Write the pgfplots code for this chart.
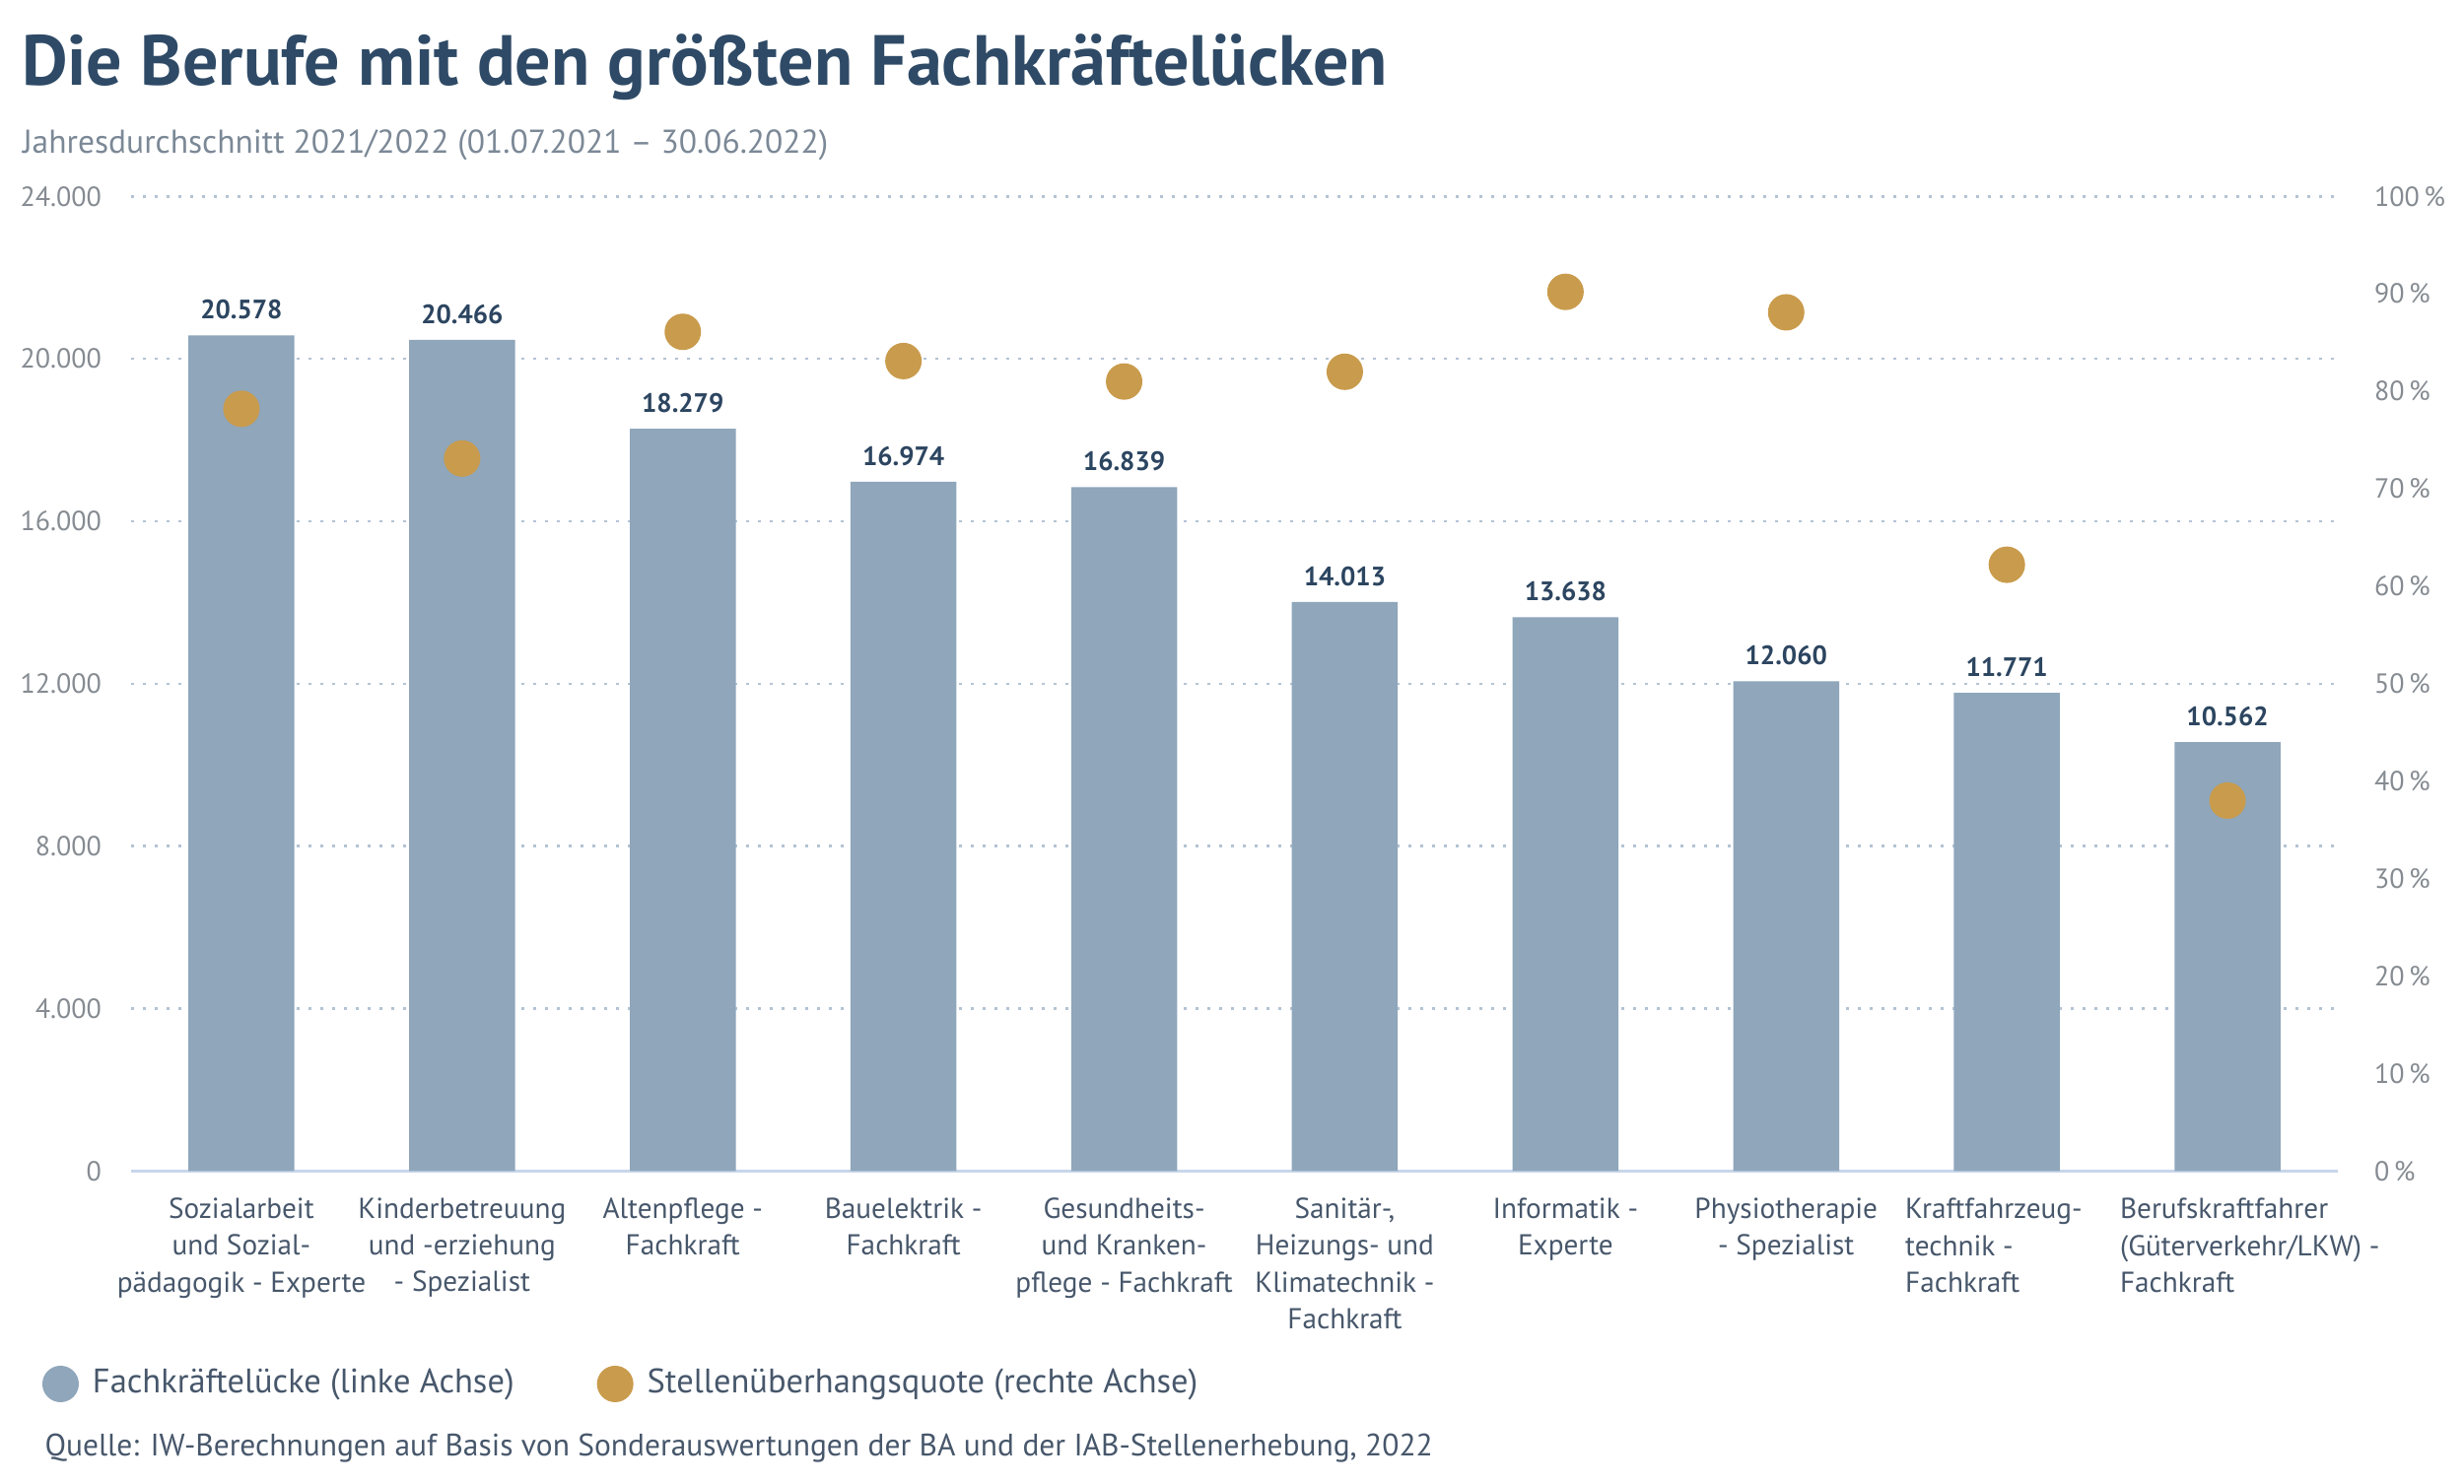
\documentclass[border=0pt]{standalone}
\usepackage{fontspec}
\setmainfont{PT Sans}
\usepackage{pgfplots}
\pgfplotsset{compat=1.18}
\definecolor{barc}{HTML}{8FA6BB}
\definecolor{dotc}{HTML}{C99B4C}
\definecolor{titlec}{HTML}{2E4A66}
\definecolor{subc}{HTML}{7B8896}
\definecolor{tickc}{HTML}{858B91}
\definecolor{labc}{HTML}{47576B}
\definecolor{gridc}{HTML}{B3C3D3}
\definecolor{axisc}{HTML}{C8D6EA}
\definecolor{valc}{HTML}{2C4560}
\begin{document}
\begin{tikzpicture}
\path[use as bounding box] (0,0) rectangle (500pt,301.2pt);
\node[anchor=base west, inner sep=0pt, font=\fontsize{14.4}{16}\selectfont\bfseries, text=titlec] at (4.2pt,283.8pt) {Die Berufe mit den größten Fachkräftelücken};
\node[anchor=base west, inner sep=0pt, font=\fontsize{6.7}{8}\selectfont, text=subc] at (4.4pt,270pt) {Jahresdurchschnitt 2021/2022 (01.07.2021 – 30.06.2022)};
\node[anchor=base west, inner sep=0pt, font=\fontsize{6.3}{7}\selectfont, text=labc] at (8.9pt,5.6pt) {Quelle: IW-Berechnungen auf Basis von Sonderauswertungen der BA und der IAB-Stellenerhebung, 2022};

\begin{axis}[
  at={(26.6pt,63.54pt)}, anchor=south west,
  scale only axis, width=447.8pt, height=197.8pt,
  xmin=-0.5, xmax=9.5, ymin=0, ymax=24000,
  axis x line*=bottom, axis y line*=left,
  y axis line style={draw=none},
  x axis line style={draw=axisc, line width=0.6pt},
  xtick style={draw=none}, ytick style={draw=none},
  ymajorgrids, grid style={gridc, line width=0.5pt, dash pattern=on 0.6pt off 1.8pt},
  ytick={0,4000,...,24000},
  scaled y ticks=false,
  /pgf/number format/1000 sep={.},
  /pgf/number format/assume math mode=true,
  yticklabel style={font=\fontsize{5.6}{6}\selectfont, text=tickc, anchor=east, inner sep=0pt, xshift=-5.8pt},
  xtick={0,...,9},
  xticklabels={
    {Sozialarbeit\\und Sozial-\\pädagogik - Experte},
    {Kinderbetreuung\\und -erziehung\\- Spezialist},
    {Altenpflege -\\Fachkraft},
    {Bauelektrik -\\Fachkraft},
    {Gesundheits-\\und Kranken-\\pflege - Fachkraft},
    {Sanitär-,\\Heizungs- und\\Klimatechnik -\\Fachkraft},
    {Informatik -\\Experte},
    {Physiotherapie\\- Spezialist},
    {\makebox[0pt][l]{\hspace*{-20.6pt}\raisebox{0pt}[4.2pt][0pt]{\begin{tabular}[t]{@{}l@{}}Kraftfahrzeug-\\technik -\\Fachkraft\end{tabular}}}},
    {\makebox[0pt][l]{\hspace*{-21.8pt}\raisebox{0pt}[4.2pt][0pt]{\begin{tabular}[t]{@{}l@{}}Berufskraftfahrer\\(Güterverkehr/LKW) -\\Fachkraft\end{tabular}}}}
  },
  xticklabel style={font=\fontsize{5.85}{7.45}\selectfont, text=labc, anchor=north, inner sep=0pt, yshift=-5.3pt, align=center},
  nodes near coords,
  every node near coord/.append style={font=\fontsize{5.4}{6}\selectfont\bfseries, text=valc, anchor=south, inner sep=0pt, yshift=3pt},
]
\addplot[ybar, bar width=21.5pt, fill=barc, draw=none] coordinates {
  (0,20578) (1,20466) (2,18279) (3,16974) (4,16839)
  (5,14013) (6,13638) (7,12060) (8,11771) (9,10562)
};
\end{axis}

\begin{axis}[
  at={(26.6pt,63.54pt)}, anchor=south west,
  scale only axis, width=447.8pt, height=197.8pt,
  xmin=-0.5, xmax=9.5, ymin=0, ymax=100,
  axis x line=none, xtick=\empty,
  axis y line*=right,
  y axis line style={draw=none},
  ytick style={draw=none},
  ytick={0,10,...,100},
  /pgf/number format/assume math mode=true,
  yticklabel={\pgfmathprintnumber{\tick}\,\%},
  yticklabel style={font=\fontsize{5.6}{6}\selectfont, text=tickc, anchor=west, inner sep=0pt, xshift=7.2pt},
  legend columns=2,
  legend style={at={(-0.0402,-0.2186)}, anchor=west, draw=none, fill=none, inner sep=0pt, outer sep=0pt,
    font=\fontsize{6.9}{8}\selectfont, nodes={inner sep=0pt, text=labc},
    /tikz/every odd column/.append style={column sep=2.8pt},
    /tikz/every even column/.append style={column sep=16.8pt}},
]
\addlegendimage{legend image code/.code={\fill[barc] (3.5pt,0pt) circle (3.5pt);}}
\addlegendentry{Fachkräftelücke (linke Achse)}
\addlegendimage{legend image code/.code={\fill[dotc] (3.5pt,0pt) circle (3.5pt);}}
\addlegendentry{Stellenüberhangsquote (rechte Achse)}
\addplot[only marks, mark=*, mark size=3.5pt, color=dotc, draw=dotc, fill=dotc, mark options={solid, draw=dotc, fill=dotc}, forget plot] coordinates {
  (0,78.2) (1,73.1) (2,86.1) (3,83.1) (4,81.0)
  (5,82.0) (6,90.2) (7,88.1) (8,62.2) (9,38.0)
};
\end{axis}
\end{tikzpicture}
\end{document}
